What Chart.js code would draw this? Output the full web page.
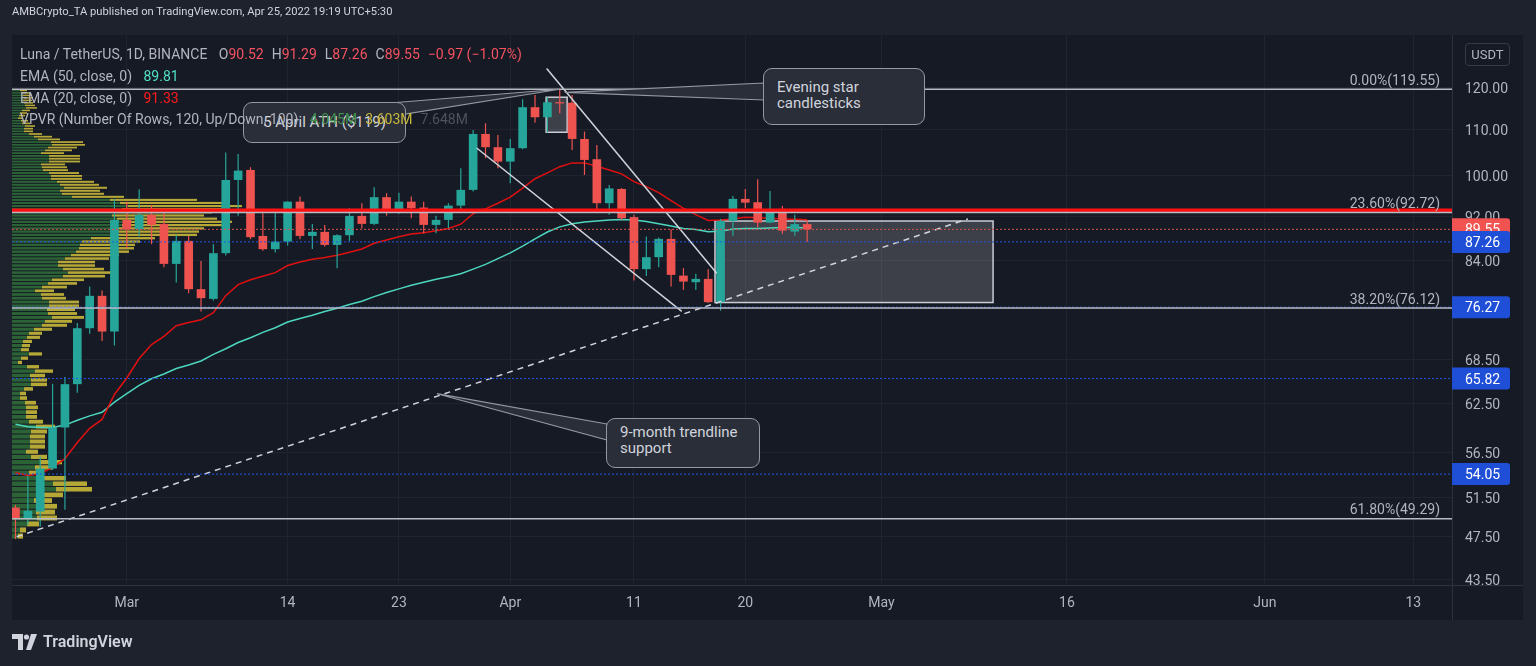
<!DOCTYPE html>
<html>
<head>
<meta charset="utf-8">
<script src="https://cdn.jsdelivr.net/npm/chart.js@4.4.1/dist/chart.umd.min.js"></script>
<style>
  html, body { margin: 0; padding: 0; background: #1e222d; }
  body { width: 1536px; height: 666px; position: relative; overflow: hidden; font-family: Roboto, "Noto Sans", sans-serif; }
  #myChart { position: absolute; left: 0; top: 0; }
  .t { position: absolute; white-space: nowrap; }
  #head { left: 12px; top: 5px; font-size: 11.2px; color: #d1d4dc; }
  .leg { left: 20px; font-size: 14px; color: #b2b5be; z-index: 3; line-height: 18px; }
  .leg span { margin-left: 8px; }
  .call { position: absolute; background: #2a2e39; border: 1.5px solid #9598a1; border-radius: 9px; color: #d1d4dc; font-size: 15px; z-index: 2; box-sizing: border-box; }
  #usdt { left: 1465px; top: 43px; width: 45px; height: 23px; border: 1px solid #363a45; border-radius: 4px; box-sizing: border-box; color: #b2b5be; font-size: 13px; text-align: center; line-height: 21px; }
  #logo { left: 12px; top: 632px; display: flex; align-items: center; color: #d1d4dc; font-size: 16px; font-weight: 600; }
</style>
</head>
<body>
<canvas id="myChart" width="1536" height="666"></canvas>

<div class="t" id="head">AMBCrypto_TA published on TradingView.com, Apr 25, 2022 19:19 UTC+5:30</div>

<div class="t leg" style="top:45px">Luna / TetherUS, 1D, BINANCE <span>O<b style="font-weight:400;color:#f7525f">90.52</b></span><span>H<b style="font-weight:400;color:#f7525f">91.29</b></span><span>L<b style="font-weight:400;color:#f7525f">87.26</b></span><span>C<b style="font-weight:400;color:#f7525f">89.55</b></span><span style="color:#f7525f">−0.97 (−1.07%)</span></div>
<div class="t leg" style="top:67px">EMA (50, close, 0) <span style="color:#4fe0c6">89.81</span></div>
<div class="t leg" style="top:89px">EMA (20, close, 0) <span style="color:#ff1a1a">91.33</span></div>
<div class="t leg" style="top:110px">VPVR (Number Of Rows, 120, Up/Down, 100) <span style="color:#3f8f4c">4.045M</span><span style="color:#c8b93a">3.603M</span><span style="color:#4e525c">7.648M</span></div>

<div class="call" style="left:243px;top:102px;width:163px;height:41px;text-align:center;line-height:38px">5 April ATH ($119)</div>
<div class="call" style="left:763px;top:68px;width:162px;height:57px;padding:10px 0 0 13px;line-height:16px">Evening star<br>candlesticks</div>
<div class="call" style="left:606px;top:418px;width:154px;height:50px;padding:5px 0 0 13px;line-height:16px">9-month trendline<br>support</div>

<div class="t" id="usdt">USDT</div>
<div class="t" id="logo">
  <svg width="26" height="16" viewBox="0 0 26 16"><path d="M0 0h11v16H6V5H0z" fill="#d1d4dc"/><circle cx="14.5" cy="3" r="2.6" fill="#d1d4dc"/><path d="M19 0h6l-6 16h-5z" fill="#d1d4dc"/></svg>
  <span style="margin-left:5px">TradingView</span>
</div>

<script>
// daily candles, Luna / TetherUS
const dates = [
  "2022-02-20","2022-02-21","2022-02-22","2022-02-23","2022-02-24","2022-02-25","2022-02-26","2022-02-27","2022-02-28","2022-03-01",
  "2022-03-02","2022-03-03","2022-03-04","2022-03-05","2022-03-06","2022-03-07","2022-03-08","2022-03-09","2022-03-10","2022-03-11",
  "2022-03-12","2022-03-13","2022-03-14","2022-03-15","2022-03-16","2022-03-17","2022-03-18","2022-03-19","2022-03-20","2022-03-21",
  "2022-03-22","2022-03-23","2022-03-24","2022-03-25","2022-03-26","2022-03-27","2022-03-28","2022-03-29","2022-03-30","2022-03-31",
  "2022-04-01","2022-04-02","2022-04-03","2022-04-04","2022-04-05","2022-04-06","2022-04-07","2022-04-08","2022-04-09","2022-04-10",
  "2022-04-11","2022-04-12","2022-04-13","2022-04-14","2022-04-15","2022-04-16","2022-04-17","2022-04-18","2022-04-19","2022-04-20",
  "2022-04-21","2022-04-22","2022-04-23","2022-04-24","2022-04-25"
];
const opens = [
  50.45,49.27,50.04,54.67,59.50,65.07,73.03,78.07,72.53,91.31,
  89.58,92.26,90.56,83.39,87.44,79.15,77.58,85.25,99.15,101.22,
  88.34,85.96,87.31,94.81,88.34,89.08,86.72,88.47,92.07,90.56,
  95.69,93.07,94.81,93.66,90.37,91.31,94.04,97.14,109.02,106.08,
  102.97,105.86,115.20,112.84,116.40,116.28,107.90,103.48,94.51,97.33,
  91.83,82.49,84.55,87.80,81.40,80.30,80.85,77.06,91.12,95.35,
  94.70,90.80,93.40,89.13,90.52
];
const highs = [
  50.74,53.86,56.01,65.12,66.05,73.83,79.57,78.93,95.35,94.81,
  97.28,94.17,93.53,88.53,88.34,83.90,86.85,104.90,104.60,101.80,
  92.58,92.88,94.90,95.81,90.56,90.37,88.66,93.53,94.51,97.67,
  96.48,96.59,95.81,94.81,92.07,94.51,101.58,109.93,111.45,108.80,
  107.90,117.11,118.15,117.59,119.55,118.15,109.54,106.58,98.14,97.50,
  92.26,88.23,88.04,89.58,82.66,81.69,82.49,91.50,95.94,97.33,
  99.30,96.93,93.98,92.26,91.29
];
const lows = [
  47.27,48.68,48.49,54.53,50.22,63.91,72.18,71.14,70.46,86.14,
  88.23,86.85,82.82,80.23,78.50,75.58,77.31,84.83,92.07,87.75,
  85.70,85.35,86.59,87.75,86.00,86.42,82.66,87.44,89.69,90.37,
  92.12,92.45,91.62,88.84,88.84,89.76,93.20,96.80,103.70,101.58,
  98.48,105.63,111.59,109.37,113.77,105.48,100.18,93.34,92.26,91.31,
  80.58,81.35,82.82,79.57,79.03,79.03,76.91,75.73,88.39,93.53,
  89.95,90.69,88.70,88.39,87.26
];
const closes = [
  49.27,50.11,54.67,59.50,65.07,73.03,78.07,72.53,91.31,89.58,
  92.26,90.37,83.39,87.44,79.15,77.70,85.25,99.15,101.08,88.11,
  85.96,87.31,94.81,88.34,89.08,86.72,88.47,92.07,90.56,95.69,
  93.07,94.81,93.53,90.37,91.31,94.04,97.14,109.02,106.08,102.97,
  105.86,115.20,112.84,116.38,116.10,107.90,103.33,94.51,97.43,91.62,
  82.49,84.55,87.80,81.52,80.40,80.85,77.06,91.12,95.35,94.62,
  90.80,93.40,89.31,90.52,89.55
];
const ema20 = [
  54.2,53.9,54.1,54.8,55.8,57.7,59.4,60.5,63.7,65.9,
  68.6,70.6,71.8,73.4,73.9,74.3,75.4,78.1,79.9,80.7,
  81.3,81.9,83.1,83.7,84.2,84.5,84.9,85.4,86.0,87.0,
  87.6,88.2,88.7,88.9,89.3,89.7,90.5,92.5,93.4,94.5,
  95.7,97.5,99.4,100.6,101.9,102.7,102.7,102.0,101.2,100.4,
  98.8,97.8,96.6,95.0,93.5,92.3,91.2,91.3,91.5,91.8,
  91.7,91.6,91.5,91.45,91.33
];
const ema50 = [
  59.9,59.6,59.5,59.5,59.8,60.4,60.95,61.4,62.7,63.8,
  64.9,65.8,66.45,67.2,67.7,68.25,69.2,70.0,70.9,71.6,
  72.4,73.1,73.96,74.5,75.0,75.6,76.1,76.7,77.2,77.95,
  78.6,79.2,79.8,80.3,80.8,81.2,81.7,82.5,83.3,84.3,
  85.3,86.5,87.8,89.05,90.0,90.6,90.9,91.1,91.3,91.4,
  91.3,91.0,90.6,90.15,89.7,89.5,89.1,89.2,89.6,89.7,
  89.7,89.8,89.9,89.9,89.81
];

// volume profile, 120 rows from the lowest low to the highest high (thousands)
const vpLow = 47.27, vpHigh = 119.55;
const vpUp = [
  6,8,15,25,24,25,22,28,44,41, 30,17,23,28,19,14,18,18,18,19,
  24,17,14,14,14,13,8,8,12,19, 19,18,23,15,6,9,17,9,10,11,
  15,17,22,30,33,40,36,35,37,37, 30,29,23,30,36,40,51,56,51,46,
  46,53,59,64,67,68,70,79,102,103, 106,110,112,105,100,104,110,116,108,98,
  60,50,48,52,48,45,39,39,37,31, 30,29,37,37,37,29,33,36,40,39,
  26,22,17,12,12,13,10,9,6,7, 8,10,14,13,12,11,12,11,10,8
];
const vpDown = [
  5,6,12,20,19,20,18,23,36,34, 24,13,18,22,16,12,15,15,15,16,
  19,14,11,11,12,11,7,6,9,16, 16,15,18,12,4,7,13,8,8,9,
  13,13,18,25,27,32,29,28,30,30, 24,23,19,25,29,32,42,46,41,37,
  37,44,48,53,55,55,58,64,83,84, 86,102,108,100,92,96,105,114,104,87,
  52,42,40,43,39,37,31,31,30,25, 25,24,31,31,31,23,27,29,33,32,
  22,18,13,9,9,10,8,7,5,6, 7,8,11,10,9,9,9,9,8,7
];

// axes
const tickDates = ["2022-03-01","2022-03-14","2022-03-23","2022-04-01","2022-04-11","2022-04-20","2022-05-01","2022-05-16","2022-06-01","2022-06-13"];
const tickLabels = ["Mar","14","23","Apr","11","20","May","16","Jun","13"];
const yTicks = [43.5, 47.5, 51.5, 56.5, 62.5, 68.5, 76, 84, 92, 100, 110, 120];

// drawings
const fibLevels = [119.55, 92.72, 76.12, 49.29];
const fibLabels = ["0.00%(119.55)", "23.60%(92.72)", "38.20%(76.12)", "61.80%(49.29)"];
const resistance = 93.15;
const priceLines = [89.55, 87.26, 76.27, 65.82, 54.05];
const priceLineColors = ["#d9524f", "#2157e8", "#2157e8", "#2157e8", "#2157e8"];
const channelUpper = [[42.94, 124.8], [56.69, 81.8]];
const channelLower = [[37.28, 105.9], [53.86, 75.6]];
const trendSupport = [[0.1, 47.5], [77.0, 91.5]];
const zoneBox = { x0: 56.55, x1: 79.03, y0: 77.0, y1: 91.1 };
const starBox = { x0: 42.9, x1: 44.6, y0: 109.4, y1: 117.6 };

const day0 = Date.parse(dates[0]);
const dayIdx = d => (Date.parse(d) - day0) / 864e5;
const tickDays = tickDates.map(dayIdx);
const xMin = -0.28, xMax = 116.13;

const teal = "#26a69a", red = "#ef5350";
const candleColors = closes.map((c, i) => c >= opens[i] ? teal : red);
const gridColor = "#20242f";
const font = { family: "Roboto, 'Noto Sans', sans-serif", size: 14 };

const hLine = (level, color, width, dash) => ({
  type: "line",
  data: [{ x: xMin, y: level }, { x: xMax, y: level }],
  borderColor: color, borderWidth: width, borderDash: dash || [],
  pointRadius: 0, order: 1
});
const segLine = (pts, color, dash) => ({
  type: "line",
  data: pts.map(p => ({ x: p[0], y: p[1] })),
  borderColor: color, borderWidth: 1.5, borderDash: dash || [],
  pointRadius: 0, order: 1
});

const bgPlugin = {
  id: "bg",
  beforeDraw(chart) {
    const c = chart.ctx;
    c.save();
    c.fillStyle = "#161a25";
    c.fillRect(12, 35, 1511, 585);
    c.restore();
  }
};

const vpvrPlugin = {
  id: "vpvr",
  beforeDatasetsDraw(chart) {
    const { ctx, scales } = chart;
    const y = scales.y, xv = scales.xv;
    const step = (vpHigh - vpLow) / vpUp.length;
    const x0 = xv.getPixelForValue(0);
    ctx.save();
    for (let k = 0; k < vpUp.length; k++) {
      const top = y.getPixelForValue(vpLow + (k + 1) * step);
      const bot = y.getPixelForValue(vpLow + k * step);
      const xu = xv.getPixelForValue(vpUp[k]);
      const xd = xv.getPixelForValue(vpUp[k] + vpDown[k]);
      ctx.fillStyle = "rgba(46,108,56,0.9)";
      ctx.fillRect(x0, top + 0.5, xu - x0, bot - top - 1);
      ctx.fillStyle = "rgba(205,188,58,0.88)";
      ctx.fillRect(xu, top + 0.5, xd - xu, bot - top - 1);
    }
    // boxes
    [zoneBox, starBox].forEach(b => {
      const l = scales.x.getPixelForValue(b.x0), r = scales.x.getPixelForValue(b.x1);
      const t = y.getPixelForValue(b.y1), btm = y.getPixelForValue(b.y0);
      ctx.fillStyle = "rgba(255,255,255,0.17)";
      ctx.fillRect(l, t, r - l, btm - t);
      ctx.strokeStyle = "#c9ccd4";
      ctx.lineWidth = 1.5;
      ctx.strokeRect(l, t, r - l, btm - t);
    });
    ctx.restore();
  }
};

const annoPlugin = {
  id: "anno",
  afterDatasetsDraw(chart) {
    const { ctx, scales: { x, y }, chartArea } = chart;
    ctx.save();
    // fib labels
    ctx.font = "14px Roboto, 'Noto Sans', sans-serif";
    ctx.fillStyle = "#b2b5be";
    ctx.textAlign = "right";
    ctx.textBaseline = "middle";
    fibLevels.forEach((v, i) => ctx.fillText(fibLabels[i], chartArea.right - 12, y.getPixelForValue(v) - 8));
    // callout tails
    const tails = [
      { base: [[390, 103], [405, 114]], at: [44, 119.55] },
      { base: [[764, 83], [764, 100]], at: [44.4, 118.8] },
      { base: [[607, 424], [607, 440]], at: [34.07, 63.8] }
    ];
    tails.forEach(t => {
      const ax = x.getPixelForValue(t.at[0]), ay = y.getPixelForValue(t.at[1]);
      ctx.beginPath();
      ctx.moveTo(t.base[0][0], t.base[0][1]);
      ctx.lineTo(ax, ay);
      ctx.lineTo(t.base[1][0], t.base[1][1]);
      ctx.closePath();
      ctx.fillStyle = "#2a2e39";
      ctx.fill();
      ctx.strokeStyle = "#9598a1";
      ctx.lineWidth = 1.2;
      ctx.stroke();
    });
    ctx.restore();
  },
  afterDraw(chart) {
    const { ctx, scales: { y }, chartArea } = chart;
    ctx.save();
    ctx.strokeStyle = "#2e323d";
    ctx.lineWidth = 1;
    ctx.beginPath();
    ctx.moveTo(chartArea.right + 0.5, 35); ctx.lineTo(chartArea.right + 0.5, 620);
    ctx.moveTo(12, chartArea.bottom + 0.5); ctx.lineTo(1523, chartArea.bottom + 0.5);
    ctx.stroke();
    ctx.font = "14px Roboto, 'Noto Sans', sans-serif";
    ctx.textAlign = "left";
    ctx.textBaseline = "middle";
    priceLines.forEach((v, i) => {
      const py = y.getPixelForValue(v);
      ctx.fillStyle = i === 0 ? "#f05350" : "#1f4fd6";
      ctx.beginPath();
      ctx.roundRect(chartArea.right, py - 11, 58, 22, [0, 3, 3, 0]);
      ctx.fill();
      ctx.fillStyle = "#ffffff";
      ctx.fillText(v.toFixed(2), chartArea.right + 13, py + 1.5);
    });
    ctx.restore();
  }
};

const ctx = document.getElementById("myChart");

new Chart(ctx, {
  type: "bar",
  data: {
    datasets: [
      ...fibLevels.map(v => hLine(v, "#b8bbc3", 1.5)),
      hLine(resistance, "#ff1010", 3.5),
      ...priceLines.map((v, i) => hLine(v, priceLineColors[i], 1, [2, 2])),
      segLine(channelUpper, "#d1d4dc"),
      segLine(channelLower, "#d1d4dc"),
      segLine(trendSupport, "#d1d4dc", [6, 5]),
      {
        type: "bar",
        label: "body",
        data: dates.map((d, i) => ({ x: i, y: [opens[i], closes[i]] })),
        backgroundColor: candleColors,
        categoryPercentage: 1,
        barPercentage: 0.7,
        grouped: false,
        minBarLength: 1,
        order: 2,
      },
      {
        type: "bar",
        label: "wick",
        data: dates.map((d, i) => ({ x: i, y: [lows[i], highs[i]] })),
        backgroundColor: candleColors,
        categoryPercentage: 1,
        barPercentage: 0.7,
        maxBarThickness: 1.2,
        grouped: false,
        order: 3,
      },
      {
        type: "line",
        label: "EMA 20",
        data: ema20.map((v, i) => ({ x: i, y: v })),
        borderColor: "#e01010",
        borderWidth: 1.5,
        pointRadius: 0,
        order: 4,
      },
      {
        type: "line",
        label: "EMA 50",
        data: ema50.map((v, i) => ({ x: i, y: v })),
        borderColor: "#4dd6bf",
        borderWidth: 1.5,
        pointRadius: 0,
        order: 4,
      },
    ],
  },
  options: {
    responsive: false,
    animation: false,
    layout: { padding: { left: 12, top: 35, right: 18, bottom: 46 } },
    plugins: {
      legend: { display: false },
      tooltip: { enabled: false },
    },
    scales: {
      x: {
        type: "linear",
        min: xMin,
        max: xMax,
        offset: false,
        bounds: "data",
        afterBuildTicks: s => { s.ticks = tickDays.map(v => ({ value: v })); },
        afterFit: s => { s.height = 35; },
        grid: { color: gridColor, drawTicks: false, offset: false },
        border: { display: false },
        ticks: {
          autoSkip: false,
          maxRotation: 0,
          padding: 10,
          color: "#b2b5be",
          font: font,
          callback: v => tickLabels[tickDays.indexOf(v)] || "",
        },
      },
      y: {
        type: "logarithmic",
        position: "right",
        min: 43.0,
        max: 133.7,
        bounds: "data",
        beginAtZero: false,
        afterBuildTicks: s => { s.ticks = yTicks.map(v => ({ value: v })); },
        afterFit: s => { s.width = 66; },
        grid: { color: gridColor, drawTicks: false },
        border: { display: false },
        ticks: {
          autoSkip: false,
          padding: 13,
          labelOffset: 2,
          color: "#b2b5be",
          font: font,
          callback: v => Number(v).toFixed(2),
        },
      },
      xv: {
        type: "linear",
        display: false,
        offset: false,
        bounds: "data",
        min: 0,
        max: 1440,
        grid: { offset: false },
      },
    },
  },
  plugins: [bgPlugin, vpvrPlugin, annoPlugin],
});
</script>
</body>
</html>
